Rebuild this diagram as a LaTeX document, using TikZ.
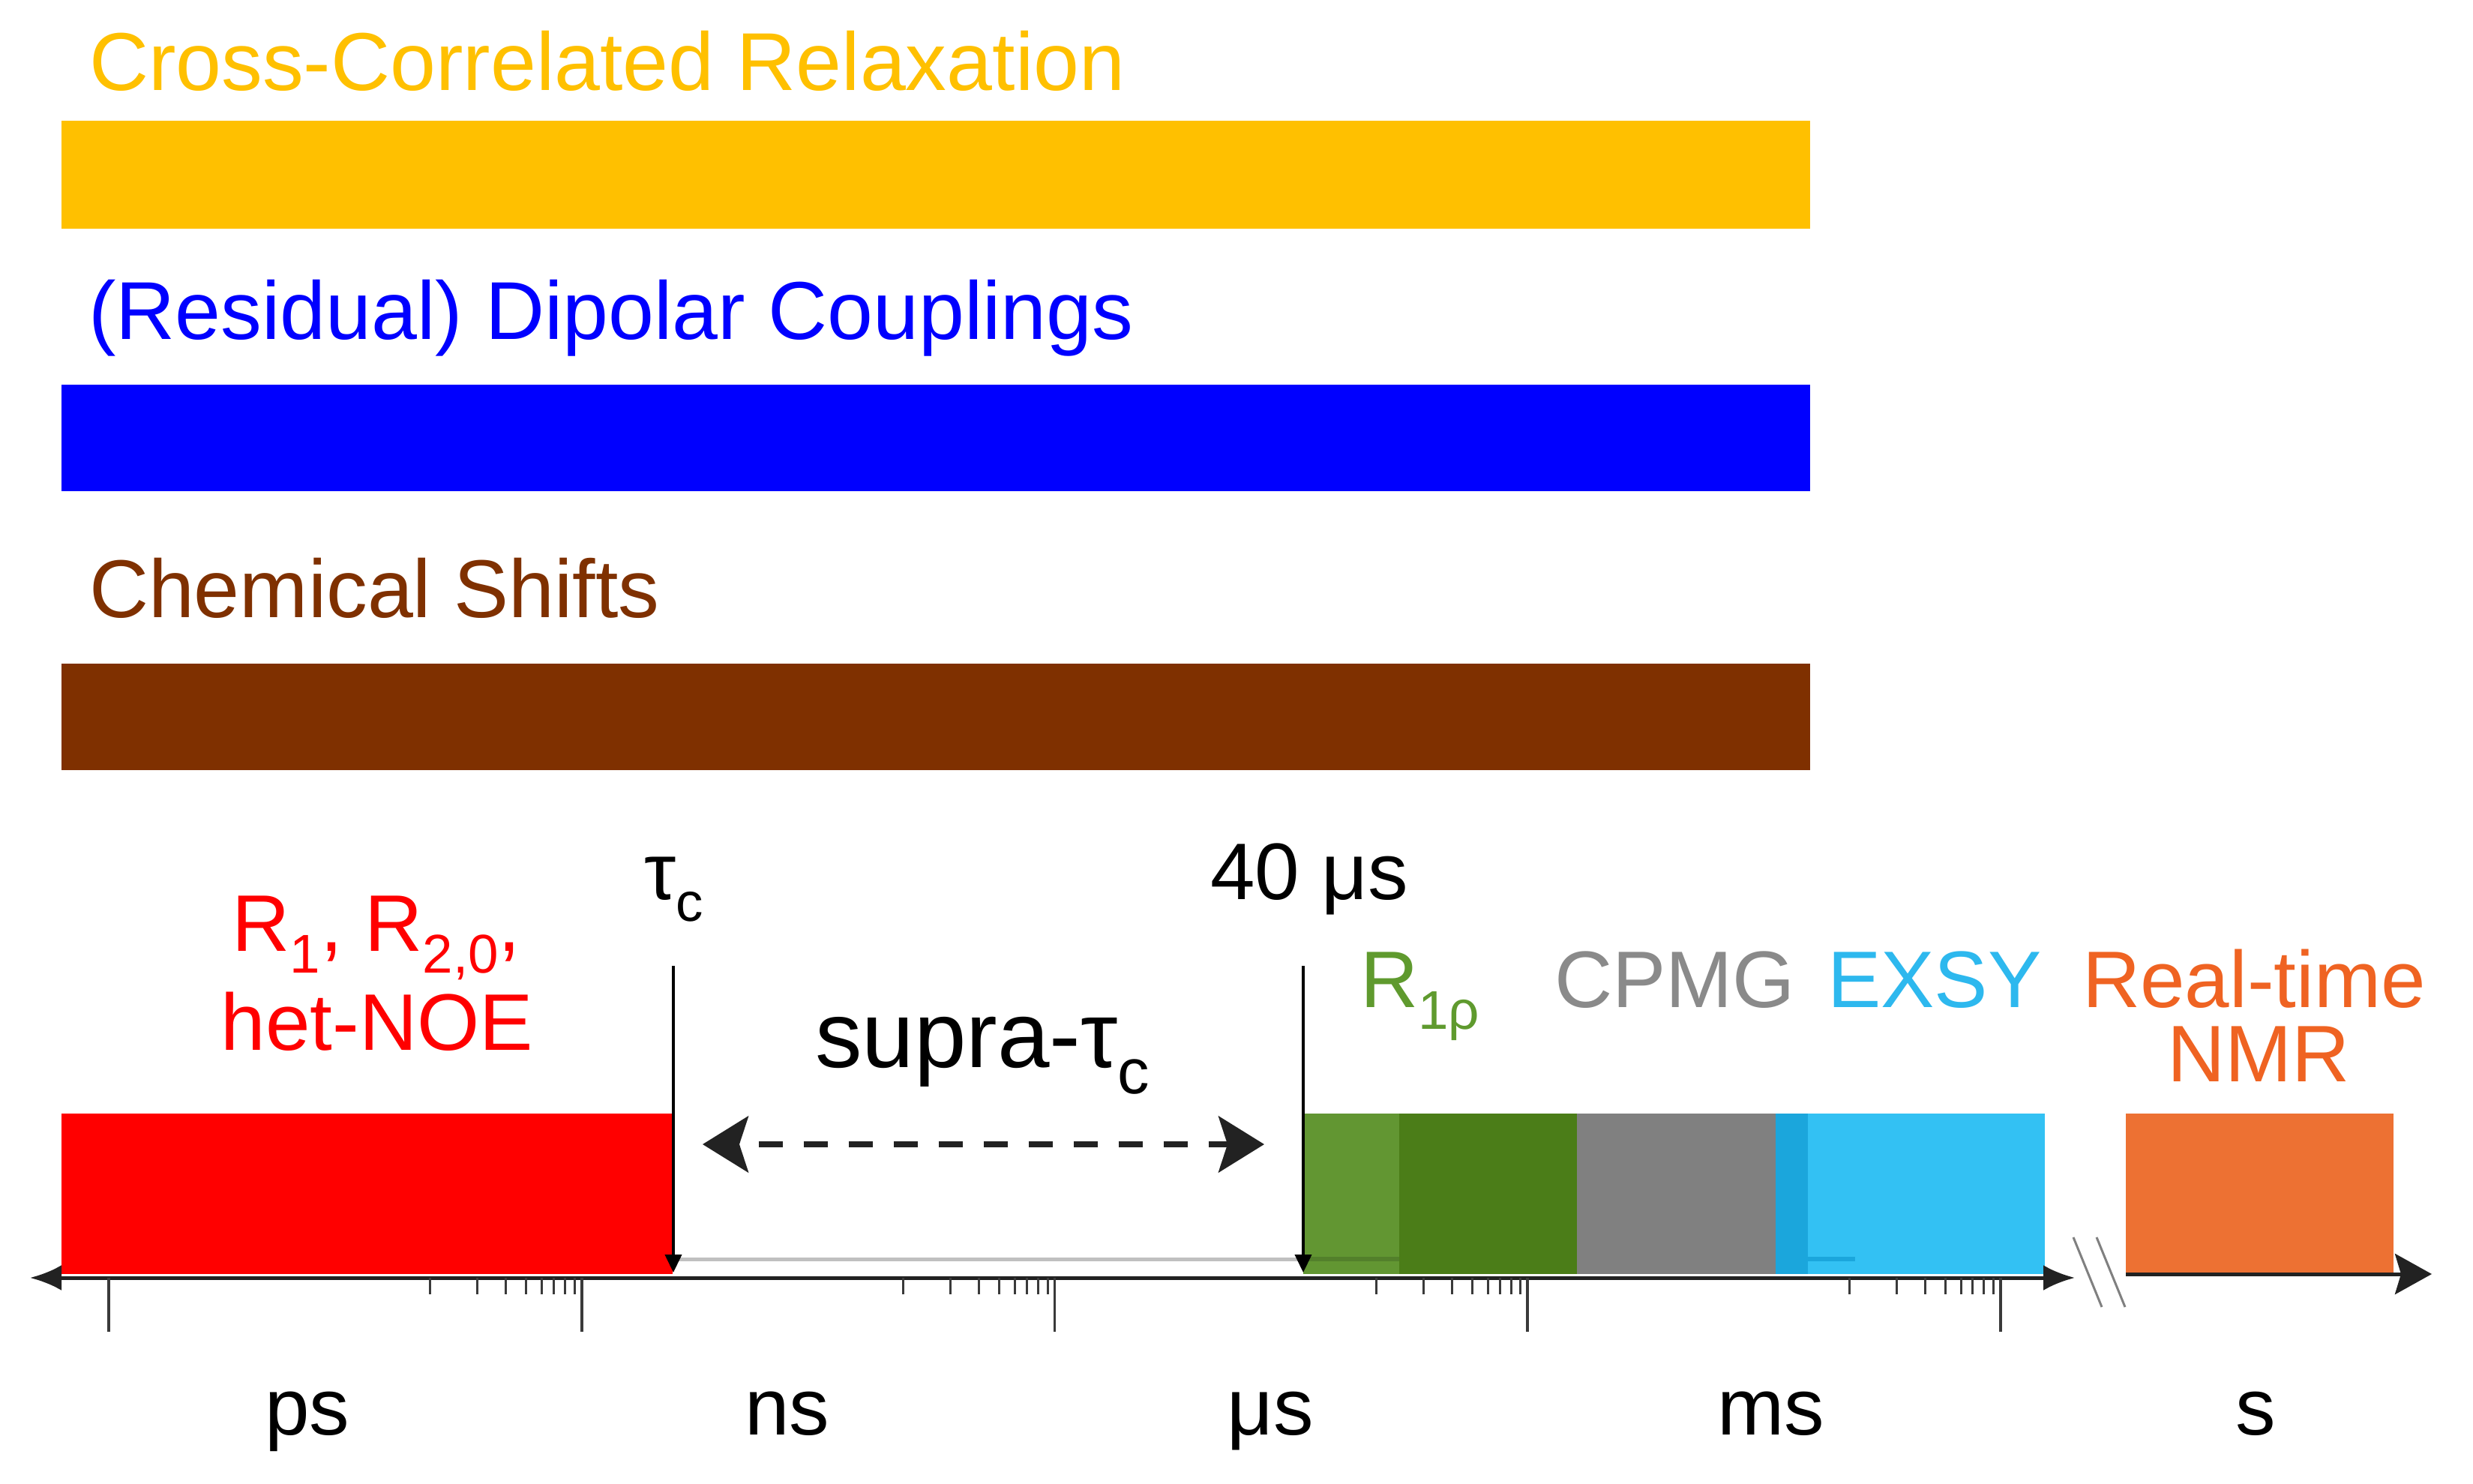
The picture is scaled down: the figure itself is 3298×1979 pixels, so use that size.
\documentclass[tikz,border=0pt]{standalone}
\usepackage{fontspec}
\setmainfont{Liberation Sans}
\usetikzlibrary{arrows.meta}
\definecolor{ccrcol}{HTML}{FFC000}
\definecolor{rdccol}{HTML}{0000FF}
\definecolor{cscol}{HTML}{7F3000}
\definecolor{redcol}{HTML}{FF0000}
\definecolor{lgreen}{HTML}{629632}
\definecolor{dgreen}{HTML}{4B7D18}
\definecolor{rhotxt}{HTML}{5F9A2E}
\definecolor{cpmgbox}{HTML}{808080}
\definecolor{cpmgtxt}{HTML}{8A8A8A}
\definecolor{dblue}{HTML}{1BA6DC}
\definecolor{lblue}{HTML}{33C1F3}
\definecolor{exsytxt}{HTML}{2DB8EE}
\definecolor{orbox}{HTML}{ED7133}
\definecolor{ortxt}{HTML}{EF6322}
\definecolor{axiscol}{HTML}{222222}
\definecolor{tickcol}{HTML}{3A3A3A}
\definecolor{faint}{HTML}{C0C0C0}
\newcommand{\lblfont}{\fontsize{10.7mm}{12.8mm}\selectfont}
\newcommand{\topfont}{\fontsize{10.95mm}{13mm}\selectfont}
\newcommand{\bigfont}{\fontsize{12.5mm}{14.5mm}\selectfont}
\newcommand{\sbs}[1]{\raisebox{-0.28em}{\fontsize{0.68em}{0.8em}\selectfont #1}}
\begin{document}
\begin{tikzpicture}[x=0.1mm,y=-0.1mm,
  lbl/.style={inner sep=0pt, outer sep=0pt, font=\lblfont},
  toplbl/.style={inner sep=0pt, outer sep=0pt, font=\topfont, anchor=base west},
  axisline/.style={draw=axiscol, line width=0.5mm},
  majortick/.style={draw=tickcol, line width=0.38mm},
  minortick/.style={draw=tickcol, line width=0.3mm},
  vline/.style={draw=black, line width=0.4mm, -{Triangle[length=2.4mm,width=2.2mm]}},
  breakline/.style={draw=gray, line width=0.3mm},
]
\useasboundingbox (0,0) rectangle (3298,1979);

% top labels and bars
\node[toplbl, text=ccrcol] (ccrlabel) at (119,121) {Cross-Correlated Relaxation};
\fill[ccrcol] (82,161) rectangle (2414,305);
\node[toplbl, text=rdccol] (rdclabel) at (118,453) {(Residual) Dipolar Couplings};
\fill[rdccol] (82,513) rectangle (2414,655);
\node[toplbl, text=cscol] (cslabel) at (119,823) {Chemical Shifts};
\fill[cscol] (82,885) rectangle (2414,1027);

% bottom boxes
\fill[redcol] (82,1485) rectangle (897,1699);
\draw[draw=faint, line width=0.5mm] (898,1679) -- (1738,1679);
\fill[lgreen] (1738,1485) rectangle (1866,1699);
\fill[lgreen!85!black] (1738,1676) rectangle (1866,1682);
\fill[dgreen] (1866,1485) rectangle (2103,1699);
\fill[cpmgbox] (2103,1485) rectangle (2368,1699);
\fill[dblue] (2368,1485) rectangle (2411,1699);
\fill[lblue] (2411,1485) rectangle (2727,1699);
\fill[dblue] (2411,1676) rectangle (2474,1682);
\fill[orbox] (2835,1485) rectangle (3192,1698);

% axis
\coordinate (axL) at (40,1704);
\coordinate (axR) at (2767,1704);
\draw[axisline, {Latex[length=4.2mm,width=3.4mm]}-{Latex[length=4.2mm,width=3.4mm]}] (axL) -- (axR);
\coordinate (ax2L) at (2835,1699);
\coordinate (ax2R) at (3243,1699);
\draw[axisline, -{Stealth[length=4.9mm,width=5.4mm,inset=0.8mm]}] (ax2L) -- (ax2R);
\draw[breakline] (2765,1650) -- (2803,1743);
\draw[breakline] (2796,1650) -- (2834,1743);

% ticks
\foreach \k in {0,...,4} {
  \draw[majortick] ({145+630.75*\k},1704) -- ++(0,72);
}
\foreach \k in {0,...,3} {
  \foreach \f in {0.68,0.78,0.84,0.883,0.916,0.941,0.965,0.985} {
    \draw[minortick] ({145+630.75*(\k+\f)},1704) -- ++(0,22);
  }
}

% vertical markers
\coordinate (tctop) at (898,1288);
\coordinate (tcbot) at (898,1697);
\draw[vline] (tctop) -- (tcbot);
\coordinate (fmtop) at (1738,1288);
\coordinate (fmbot) at (1738,1697);
\draw[vline] (fmtop) -- (fmbot);

% supra-tau_c double arrow
\coordinate (supL) at (937,1526);
\coordinate (supR) at (1686,1526);
\draw[draw=axiscol, line width=0.75mm, dash pattern=on 3.2mm off 2.8mm, dash phase=3.2mm,
  {Stealth[length=6.1mm,width=7.5mm,inset=1.2mm]}-{Stealth[length=6.1mm,width=7.5mm,inset=1.2mm]}] (supL) -- (supR);

% bottom labels
\node[lbl, text=redcol, anchor=base] (rlab1) at (502,1268) {R\sbs{1}, R\sbs{2,0},};
\node[lbl, text=redcol, anchor=base] (rlab2) at (503,1400) {het-NOE};
\node[lbl, text=black, anchor=base] (tclab) at (899,1199) {τ\sbs{c}};
\node[lbl, text=black, anchor=base] (fmlab) at (1746,1199) {40 μs};
\node[lbl, font=\bigfont, text=black, anchor=base west] (suplab) at (1087,1423) {supra-τ\sbs{c}};
\node[lbl, text=rhotxt, anchor=base west] (rholab) at (1814,1343) {R\sbs{1ρ}};
\node[lbl, text=cpmgtxt, anchor=base west] (cpmglab) at (2073,1343) {CPMG};
\node[lbl, text=exsytxt, anchor=base west] (exsylab) at (2437,1343) {EXSY};
\node[lbl, text=ortxt, anchor=base] (rtlab1) at (3006,1343) {Real-time};
\node[lbl, text=ortxt, anchor=base] (rtlab2) at (3012,1442) {NMR};

% unit labels
\node[lbl, anchor=base] (ups) at (410,1913) {ps};
\node[lbl, anchor=base] (uns) at (1050,1913) {ns};
\node[lbl, anchor=base] (uus) at (1694,1913) {μs};
\node[lbl, anchor=base] (ums) at (2362,1913) {ms};
\node[lbl, anchor=base] (us) at (3008,1913) {s};
\end{tikzpicture}
\end{document}
